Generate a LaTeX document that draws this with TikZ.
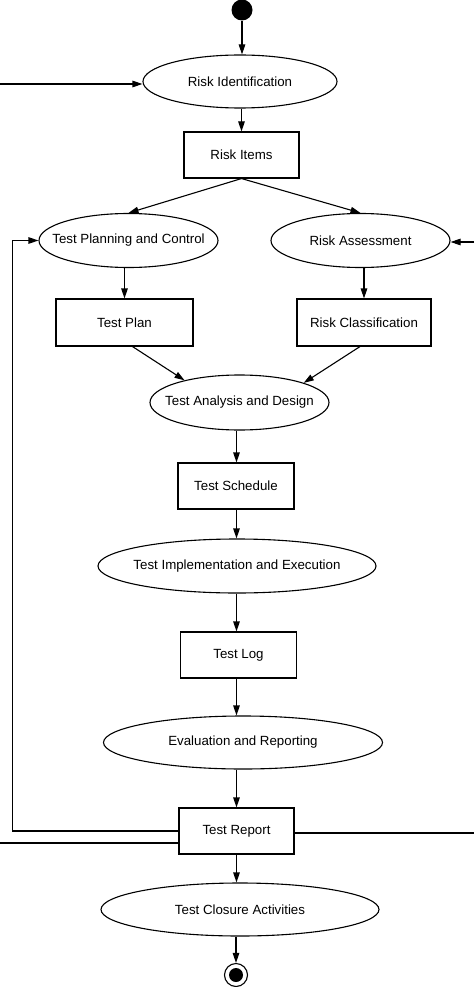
\documentclass[tikz,border=0pt]{standalone}
\usepackage{fontspec}
\setmainfont{Liberation Sans}
\usetikzlibrary{shapes.geometric,arrows.meta}
\begin{document}
\begin{tikzpicture}[x=1pt,y=-1pt,line width=1.1pt,
    activity/.style={ellipse,draw,inner xsep=-20pt,inner ysep=0pt,font=\fontsize{13.3}{16}\selectfont},
    artefact/.style={rectangle,draw,inner sep=0pt,minimum height=46pt,font=\fontsize{13.3}{16}\selectfont},
    flow/.style={-{Triangle[length=10pt,width=6.5pt]}}]
      \useasboundingbox (0,0) rectangle (474,987);

      \node[circle,fill,minimum size=21pt,inner sep=0pt] (start) at (242,10) {};
      \node[activity,minimum width=194pt,minimum height=53pt] (ident) at (240,81.5) {Risk Identification};
      \node[artefact,minimum width=115pt] (items) at (241.5,155) {Risk Items};
      \node[activity,minimum width=179pt,minimum height=54pt] (plan) at (128.5,240.5) {Test Planning and Control};
      \node[activity,minimum width=179pt,minimum height=54pt] (assess) at (360.5,240.5) {Risk Assessment};
      \node[artefact,minimum width=137pt,minimum height=47pt] (tplan) at (124.5,322.5) {Test Plan};
      \node[artefact,minimum width=134pt,minimum height=47pt] (class) at (364,322.5) {Risk Classification};
      \node[activity,minimum width=179pt,minimum height=55pt] (design) at (239.5,402.5) {Test Analysis and Design};
      \node[artefact,minimum width=116pt] (sched) at (236,486) {Test Schedule};
      \node[activity,minimum width=278pt,minimum height=54pt] (exec) at (237,566) {Test Implementation and Execution};
      \node[artefact,minimum width=116pt] (log) at (238.5,655) {Test Log};
      \node[activity,minimum width=279pt,minimum height=53pt] (eval) at (243,742.5) {Evaluation and Reporting};
      \node[artefact,minimum width=115pt] (report) at (236.5,831) {Test Report};
      \node[activity,minimum width=278pt,minimum height=53pt] (closure) at (240,909.5) {Test Closure Activities};
      \node[circle,draw,minimum size=23pt,inner sep=0pt] (end) at (236,975) {};
      \fill (end.center) circle (7);

      \coordinate (col) at (236.5,0);
      \coordinate (leftin) at (0,84);
      \coordinate (rightin) at (474,242);
      \coordinate (leftout) at (0,843);
      \coordinate (rightout) at (474,833);

      \draw[flow] (start.south) -- (start.south |- ident.north);
      \draw[flow] (items.north |- ident.south) -- (items.north);
      \draw[flow] (items.south) -- (plan.north);
      \draw[flow] (items.south) -- (assess.north);
      \draw[flow] (plan.south -| tplan.north) -- (tplan.north);
      \draw[flow] (assess.south -| class.north) -- (class.north);
      \draw[flow] ([xshift=8pt]tplan.south) -- (design.158);
      \draw[flow] ([xshift=-4pt]class.south) -- (design.17);
      \draw[flow] (design.south -| col) -- (sched.north -| col);
      \draw[flow] (sched.south -| col) -- (exec.north -| col);
      \draw[flow] (exec.south -| col) -- (log.north -| col);
      \draw[flow] (log.south -| col) -- (eval.north -| col);
      \draw[flow] (eval.south -| col) -- (report.north -| col);
      \draw[flow] (report.south -| col) -- (closure.north -| col);
      \draw[flow] (closure.south -| end.north) -- (end.north);

      \draw[flow] (leftin) -- (leftin -| ident.west);
      \draw[flow] (rightin) -- (rightin -| assess.east);
      \draw[flow] (report.west) -- ++(-166,0) |- (plan.west);
      \draw ([yshift=-12pt]report.west) -- (leftout);
      \draw ([yshift=-2pt]report.east) -- (rightout);
    \end{tikzpicture}
\end{document}
